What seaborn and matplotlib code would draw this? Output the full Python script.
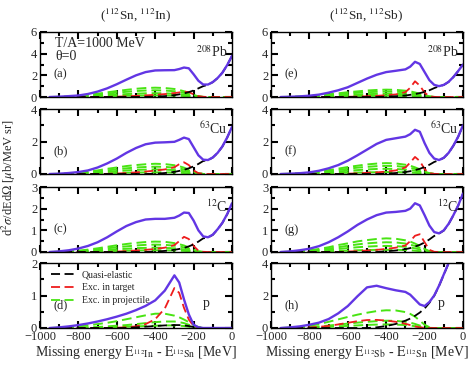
import matplotlib
matplotlib.use("Agg")
import matplotlib.pyplot as plt
import seaborn as sns
from matplotlib.ticker import MultipleLocator

# missing energy grid [MeV]
X = [-950, -900, -850, -800, -750, -700, -650, -600, -550, -500, -450, -400, -350,
     -300, -275, -250, -225, -200, -175, -150, -125, -100, -75, -50, -25, 0]

# (112Sn,112In) column
TOT_A = [0, 0.03, 0.08, 0.14, 0.28, 0.5, 0.8, 1.18, 1.6, 2.0, 2.3, 2.45, 2.47, 2.48, 2.58, 2.72, 2.65, 2.1, 1.5, 1.15, 1.15, 1.38, 1.75, 2.25, 2.95, 3.8]
QE_A = [0, 0, 0, 0, 0, 0, 0, 0, 0, 0, 0.01, 0.03, 0.08, 0.17, 0.24, 0.33, 0.45, 0.6, 0.8, 1.0, 1.13, 1.37, 1.74, 2.24, 2.94, 3.79]
TGT_A = [0, 0, 0, 0, 0, 0, 0.01, 0.03, 0.06, 0.1, 0.15, 0.2, 0.27, 0.36, 0.42, 0.5, 0.45, 0.25, 0.08, 0.02, 0, 0, 0, 0, 0, 0]
PRJ_A = [
    [0, 0.01, 0.04, 0.1, 0.19, 0.3, 0.43, 0.55, 0.66, 0.76, 0.83, 0.86, 0.83, 0.74, 0.65, 0.53, 0.38, 0.19, 0.06, 0.01, 0, 0, 0, 0, 0, 0],
    [0, 0.01, 0.03, 0.07, 0.14, 0.22, 0.31, 0.4, 0.48, 0.55, 0.6, 0.62, 0.6, 0.53, 0.47, 0.38, 0.27, 0.14, 0.04, 0.01, 0, 0, 0, 0, 0, 0],
    [0, 0, 0.02, 0.04, 0.08, 0.12, 0.18, 0.22, 0.27, 0.31, 0.34, 0.35, 0.34, 0.3, 0.27, 0.22, 0.15, 0.08, 0.02, 0, 0, 0, 0, 0, 0, 0],
    [0, 0, 0.01, 0.02, 0.03, 0.05, 0.08, 0.1, 0.12, 0.13, 0.14, 0.15, 0.15, 0.13, 0.11, 0.09, 0.07, 0.03, 0.01, 0, 0, 0, 0, 0, 0, 0],
]

TOT_B = [0, 0.02, 0.06, 0.12, 0.22, 0.4, 0.65, 0.95, 1.3, 1.6, 1.83, 1.93, 1.95, 1.98, 2.1, 2.24, 2.15, 1.65, 1.15, 0.88, 0.86, 1.02, 1.3, 1.7, 2.25, 2.9]
QE_B = [0, 0, 0, 0, 0, 0, 0, 0, 0, 0, 0, 0.02, 0.06, 0.13, 0.19, 0.26, 0.35, 0.47, 0.62, 0.8, 0.85, 1.01, 1.29, 1.69, 2.24, 2.89]
TGT_B = [0, 0, 0, 0, 0, 0, 0.01, 0.03, 0.06, 0.1, 0.15, 0.21, 0.28, 0.42, 0.6, 0.72, 0.55, 0.22, 0.05, 0.01, 0, 0, 0, 0, 0, 0]
PRJ_B = [
    [0, 0.01, 0.03, 0.08, 0.14, 0.22, 0.32, 0.4, 0.49, 0.55, 0.6, 0.63, 0.61, 0.54, 0.48, 0.39, 0.28, 0.14, 0.04, 0.01, 0, 0, 0, 0, 0, 0],
    [0, 0, 0.02, 0.05, 0.1, 0.16, 0.22, 0.29, 0.35, 0.4, 0.43, 0.45, 0.44, 0.39, 0.34, 0.28, 0.2, 0.1, 0.03, 0, 0, 0, 0, 0, 0, 0],
    [0, 0, 0.01, 0.03, 0.06, 0.1, 0.14, 0.18, 0.22, 0.25, 0.27, 0.28, 0.27, 0.24, 0.21, 0.17, 0.12, 0.06, 0.02, 0, 0, 0, 0, 0, 0, 0],
    [0, 0, 0, 0.01, 0.02, 0.04, 0.05, 0.06, 0.08, 0.09, 0.1, 0.1, 0.1, 0.09, 0.08, 0.06, 0.04, 0.02, 0.01, 0, 0, 0, 0, 0, 0, 0],
]

TOT_C = [0, 0.03, 0.08, 0.16, 0.28, 0.45, 0.68, 0.95, 1.2, 1.38, 1.5, 1.53, 1.53, 1.58, 1.68, 1.82, 1.8, 1.45, 1.0, 0.72, 0.68, 0.8, 1.05, 1.35, 1.75, 2.25]
QE_C = [0, 0, 0, 0, 0, 0, 0, 0, 0, 0, 0, 0.02, 0.05, 0.1, 0.14, 0.19, 0.26, 0.35, 0.48, 0.63, 0.67, 0.79, 1.04, 1.34, 1.74, 2.24]
TGT_C = [0, 0, 0, 0, 0, 0, 0, 0.02, 0.04, 0.07, 0.1, 0.14, 0.2, 0.32, 0.5, 0.7, 0.6, 0.28, 0.06, 0.01, 0, 0, 0, 0, 0, 0]
PRJ_C = [
    [0, 0.01, 0.02, 0.06, 0.11, 0.17, 0.24, 0.31, 0.37, 0.42, 0.46, 0.48, 0.47, 0.41, 0.36, 0.3, 0.21, 0.11, 0.03, 0, 0, 0, 0, 0, 0, 0],
    [0, 0, 0.02, 0.04, 0.07, 0.12, 0.17, 0.22, 0.26, 0.3, 0.33, 0.34, 0.33, 0.29, 0.26, 0.21, 0.15, 0.07, 0.02, 0, 0, 0, 0, 0, 0, 0],
    [0, 0, 0.01, 0.02, 0.04, 0.07, 0.1, 0.13, 0.15, 0.18, 0.19, 0.2, 0.19, 0.17, 0.15, 0.12, 0.09, 0.04, 0.01, 0, 0, 0, 0, 0, 0, 0],
    [0, 0, 0, 0.01, 0.02, 0.03, 0.04, 0.05, 0.06, 0.07, 0.08, 0.08, 0.08, 0.07, 0.06, 0.05, 0.04, 0.02, 0, 0, 0, 0, 0, 0, 0, 0],
]

TOT_D = [0, 0.02, 0.05, 0.09, 0.14, 0.2, 0.27, 0.35, 0.44, 0.55, 0.68, 0.85, 1.15, 1.62, 1.4, 0.88, 0.42, 0.1, 0.02, 0, 0, 0, 0, 0, 0, 0]
QE_D = [0, 0, 0, 0, 0, 0, 0, 0, 0, 0.02, 0.04, 0.06, 0.08, 0.09, 0.09, 0.08, 0.06, 0.03, 0.01, 0, 0, 0, 0, 0, 0, 0]
TGT_D = [0, 0, 0, 0, 0, 0, 0, 0.01, 0.02, 0.05, 0.12, 0.27, 0.6, 1.23, 1.08, 0.62, 0.26, 0.06, 0.01, 0, 0, 0, 0, 0, 0, 0]
PRJ_D = [
    [0, 0.01, 0.03, 0.05, 0.08, 0.12, 0.16, 0.21, 0.27, 0.33, 0.39, 0.44, 0.44, 0.38, 0.33, 0.26, 0.18, 0.09, 0.03, 0, 0, 0, 0, 0, 0, 0],
    [0, 0, 0, 0.01, 0.02, 0.03, 0.05, 0.07, 0.09, 0.12, 0.15, 0.18, 0.2, 0.2, 0.18, 0.15, 0.1, 0.05, 0.01, 0, 0, 0, 0, 0, 0, 0],
    [0, 0, 0, 0, 0.01, 0.01, 0.02, 0.03, 0.04, 0.05, 0.06, 0.07, 0.08, 0.08, 0.07, 0.06, 0.04, 0.02, 0, 0, 0, 0, 0, 0, 0, 0],
]

# (112Sn,112Sb) column
TOT_E = [0, 0.02, 0.06, 0.12, 0.22, 0.4, 0.62, 0.9, 1.3, 1.7, 2.05, 2.3, 2.42, 2.55, 2.8, 3.25, 3.05, 2.3, 1.55, 1.12, 1.0, 1.12, 1.4, 1.85, 2.4, 3.0]
QE_E = [0, 0, 0, 0, 0, 0, 0, 0, 0, 0, 0, 0.03, 0.07, 0.14, 0.2, 0.27, 0.36, 0.47, 0.62, 0.82, 0.99, 1.11, 1.39, 1.84, 2.39, 2.99]
TGT_E = [0, 0, 0, 0, 0, 0, 0, 0.02, 0.04, 0.07, 0.11, 0.16, 0.24, 0.45, 0.85, 1.45, 1.05, 0.4, 0.06, 0.01, 0, 0, 0, 0, 0, 0]
PRJ_E = [
    [0, 0.01, 0.04, 0.08, 0.15, 0.24, 0.34, 0.44, 0.52, 0.6, 0.65, 0.68, 0.66, 0.58, 0.52, 0.42, 0.3, 0.15, 0.05, 0.01, 0, 0, 0, 0, 0, 0],
    [0, 0.01, 0.03, 0.06, 0.11, 0.18, 0.25, 0.32, 0.39, 0.44, 0.48, 0.5, 0.49, 0.43, 0.38, 0.31, 0.22, 0.11, 0.03, 0, 0, 0, 0, 0, 0, 0],
    [0, 0, 0.02, 0.04, 0.07, 0.1, 0.15, 0.19, 0.23, 0.26, 0.29, 0.3, 0.29, 0.26, 0.23, 0.19, 0.13, 0.07, 0.02, 0, 0, 0, 0, 0, 0, 0],
    [0, 0, 0.01, 0.01, 0.03, 0.04, 0.06, 0.08, 0.09, 0.1, 0.11, 0.12, 0.12, 0.1, 0.09, 0.07, 0.05, 0.03, 0.01, 0, 0, 0, 0, 0, 0, 0],
]

TOT_F = [0, 0.02, 0.05, 0.1, 0.2, 0.35, 0.55, 0.82, 1.15, 1.5, 1.85, 2.1, 2.2, 2.3, 2.45, 2.72, 2.6, 1.9, 1.3, 0.95, 0.86, 1.0, 1.3, 1.75, 2.3, 3.0]
QE_F = [0, 0, 0, 0, 0, 0, 0, 0, 0, 0, 0, 0.02, 0.06, 0.12, 0.17, 0.24, 0.32, 0.43, 0.57, 0.74, 0.85, 0.99, 1.29, 1.74, 2.29, 2.99]
TGT_F = [0, 0, 0, 0, 0, 0, 0, 0.02, 0.04, 0.07, 0.1, 0.15, 0.22, 0.4, 0.7, 1.05, 0.8, 0.3, 0.05, 0.01, 0, 0, 0, 0, 0, 0]
PRJ_F = [
    [0, 0.01, 0.04, 0.08, 0.15, 0.24, 0.33, 0.43, 0.51, 0.59, 0.64, 0.67, 0.65, 0.57, 0.51, 0.41, 0.29, 0.15, 0.05, 0.01, 0, 0, 0, 0, 0, 0],
    [0, 0.01, 0.03, 0.06, 0.11, 0.18, 0.25, 0.32, 0.39, 0.44, 0.48, 0.5, 0.49, 0.43, 0.38, 0.31, 0.22, 0.11, 0.03, 0, 0, 0, 0, 0, 0, 0],
    [0, 0, 0.02, 0.04, 0.07, 0.11, 0.16, 0.2, 0.24, 0.28, 0.31, 0.32, 0.31, 0.27, 0.24, 0.2, 0.14, 0.07, 0.02, 0, 0, 0, 0, 0, 0, 0],
    [0, 0, 0.01, 0.01, 0.03, 0.04, 0.06, 0.08, 0.09, 0.1, 0.11, 0.12, 0.12, 0.1, 0.09, 0.07, 0.05, 0.03, 0.01, 0, 0, 0, 0, 0, 0, 0],
]

TOT_G = [0, 0.03, 0.08, 0.15, 0.27, 0.45, 0.68, 0.95, 1.25, 1.5, 1.7, 1.82, 1.85, 1.9, 2.0, 2.25, 2.15, 1.7, 1.22, 0.92, 0.86, 1.0, 1.3, 1.7, 2.15, 2.7]
QE_G = [0, 0, 0, 0, 0, 0, 0, 0, 0, 0, 0, 0.03, 0.07, 0.13, 0.18, 0.25, 0.33, 0.44, 0.58, 0.74, 0.85, 0.99, 1.29, 1.69, 2.14, 2.69]
TGT_G = [0, 0, 0, 0, 0, 0, 0, 0.02, 0.04, 0.07, 0.1, 0.14, 0.2, 0.3, 0.5, 0.75, 0.82, 0.45, 0.1, 0.01, 0, 0, 0, 0, 0, 0]
PRJ_G = [
    [0, 0.01, 0.03, 0.08, 0.14, 0.22, 0.32, 0.4, 0.49, 0.55, 0.6, 0.63, 0.61, 0.54, 0.48, 0.39, 0.28, 0.14, 0.04, 0.01, 0, 0, 0, 0, 0, 0],
    [0, 0, 0.02, 0.05, 0.1, 0.16, 0.22, 0.29, 0.35, 0.4, 0.43, 0.45, 0.44, 0.39, 0.34, 0.28, 0.2, 0.1, 0.03, 0, 0, 0, 0, 0, 0, 0],
    [0, 0, 0.01, 0.03, 0.06, 0.1, 0.14, 0.18, 0.22, 0.25, 0.27, 0.28, 0.27, 0.24, 0.21, 0.17, 0.12, 0.06, 0.02, 0, 0, 0, 0, 0, 0, 0],
    [0, 0, 0, 0.01, 0.02, 0.04, 0.05, 0.06, 0.08, 0.09, 0.1, 0.1, 0.1, 0.09, 0.08, 0.06, 0.04, 0.02, 0.01, 0, 0, 0, 0, 0, 0, 0],
]

TOT_H = [0, 0.04, 0.1, 0.2, 0.33, 0.55, 0.9, 1.35, 1.95, 2.5, 2.6, 2.45, 2.32, 2.22, 2.05, 1.75, 1.45, 1.35, 1.6, 2.0, 2.6, 3.3, 4.0, 4.8, 5.6, 6.5]
QE_H = [0, 0, 0, 0, 0, 0, 0, 0, 0, 0, 0.04, 0.12, 0.25, 0.45, 0.58, 0.75, 0.95, 1.2, 1.55, 1.98, 2.58, 3.28, 3.98, 4.78, 5.58, 6.48]
TGT_H = [0, 0, 0.01, 0.03, 0.07, 0.13, 0.22, 0.32, 0.42, 0.49, 0.5, 0.46, 0.38, 0.26, 0.18, 0.1, 0.04, 0.01, 0, 0, 0, 0, 0, 0, 0, 0]
PRJ_H = [
    [0, 0.02, 0.06, 0.13, 0.24, 0.38, 0.53, 0.68, 0.82, 0.94, 1.04, 1.09, 1.08, 0.98, 0.87, 0.7, 0.45, 0.2, 0.05, 0, 0, 0, 0, 0, 0, 0],
    [0, 0.01, 0.02, 0.05, 0.1, 0.15, 0.21, 0.27, 0.33, 0.38, 0.42, 0.45, 0.44, 0.38, 0.33, 0.25, 0.15, 0.06, 0.01, 0, 0, 0, 0, 0, 0, 0],
    [0, 0, 0.01, 0.02, 0.05, 0.07, 0.1, 0.13, 0.16, 0.19, 0.21, 0.22, 0.21, 0.18, 0.15, 0.11, 0.07, 0.03, 0, 0, 0, 0, 0, 0, 0, 0],
]

PANELS = [
    ("(a)", r"$^{208}$Pb", 6, TOT_A, QE_A, TGT_A, PRJ_A),
    ("(b)", r"$^{63}$Cu", 4, TOT_B, QE_B, TGT_B, PRJ_B),
    ("(c)", r"$^{12}$C", 3, TOT_C, QE_C, TGT_C, PRJ_C),
    ("(d)", "p", 2, TOT_D, QE_D, TGT_D, PRJ_D),
    ("(e)", r"$^{208}$Pb", 6, TOT_E, QE_E, TGT_E, PRJ_E),
    ("(f)", r"$^{63}$Cu", 4, TOT_F, QE_F, TGT_F, PRJ_F),
    ("(g)", r"$^{12}$C", 3, TOT_G, QE_G, TGT_G, PRJ_G),
    ("(h)", "p", 4, TOT_H, QE_H, TGT_H, PRJ_H),
]

BLUE = "#6236e4"
RED = "#ee1c1c"
GREEN = "#48e412"

sns.set_style("ticks")
plt.rcParams["font.family"] = ["Liberation Serif", "DejaVu Serif"]
plt.rcParams["mathtext.fontset"] = "stix"
plt.rcParams["font.size"] = 8.5
plt.rcParams["axes.edgecolor"] = "black"
plt.rcParams["axes.linewidth"] = 1.0

fig = plt.figure(figsize=(4.74, 3.69), dpi=100)

col_x = [40 / 474, 271 / 474]
col_w = 192 / 474
row_top = [32, 109, 187, 263]
row_h = 65

dash = (5, 2.5)

for i, (tag, nuc, ymax, tot, qe, tgt, prj) in enumerate(PANELS):
    col, row = divmod(i, 4)
    ax = fig.add_axes([col_x[col], 1 - (row_top[row] + row_h) / 369, col_w, row_h / 369])

    for g in prj:
        sns.lineplot(x=X, y=g, ax=ax, color=GREEN, lw=1.4, linestyle=(0, dash), legend=False)
    sns.lineplot(x=X, y=tgt, ax=ax, color=RED, lw=1.3, linestyle=(0, dash), legend=False)
    sns.lineplot(x=X, y=qe, ax=ax, color="black", lw=1.3, linestyle=(0, dash), legend=False)
    sns.lineplot(x=X, y=tot, ax=ax, color=BLUE, lw=1.7, legend=False)

    ax.set_xlim(-1000, 0)
    ax.set_ylim(0, ymax)
    ax.xaxis.set_major_locator(MultipleLocator(200))
    ax.xaxis.set_minor_locator(MultipleLocator(100))
    step = 2 if ymax in (4, 6) else 1
    ax.yaxis.set_major_locator(MultipleLocator(step))
    ax.yaxis.set_minor_locator(MultipleLocator(step / 2))
    ax.tick_params(which="both", direction="in", top=True, right=True,
                   color="black", width=1.5, labelsize=9, pad=2)
    ax.tick_params(which="major", length=5)
    ax.tick_params(which="minor", length=2.8)

    ax.text(0.07, 0.3, tag, transform=ax.transAxes, fontsize=9)
    if nuc == "p":
        ax.text(0.85 if col == 0 else 0.87, 0.32, nuc, transform=ax.transAxes, fontsize=10)
    else:
        ax.text(0.975, 0.62, nuc, transform=ax.transAxes, fontsize=10, ha="right")

    if row < 3:
        ax.set_xticklabels([])
    else:
        iso = "In" if col == 0 else "Sb"
        ax.set_xlabel(r"Missing energy $\mathrm{E}_{{}^{112}\mathrm{%s}}$ - $\mathrm{E}_{{}^{112}\mathrm{Sn}}$ [MeV]" % iso,
                      fontsize=10, labelpad=1)

    if i == 0:
        ax.text(0.08, 0.77, "T/A=1000 MeV", transform=ax.transAxes, fontsize=10)
        ax.text(0.08, 0.57, "θ=0", transform=ax.transAxes, fontsize=10)

    if i == 3:
        ax.plot([], [], color="black", lw=1.3, linestyle=(0, dash), label="Quasi-elastic")
        ax.plot([], [], color=RED, lw=1.3, linestyle=(0, dash), label="Exc. in target")
        ax.plot([], [], color=GREEN, lw=1.3, linestyle=(0, dash), label="Exc. in projectile")
        ax.legend(loc="upper left", frameon=False, fontsize=7, handlelength=2.4,
                  borderaxespad=0.3, labelspacing=0.4, bbox_to_anchor=(0.02, 0.99))

fig.text(136 / 474, 1 - 15 / 369, r"($^{112}$Sn, $^{112}$In)", ha="center", va="center", fontsize=9.5)
fig.text(366 / 474, 1 - 15 / 369, r"($^{112}$Sn, $^{112}$Sb)", ha="center", va="center", fontsize=9.5)
fig.text(0.018, 0.52, r"d$^2\sigma$/dEd$\Omega$ [$\mu$b/MeV sr]", rotation=90,
         ha="center", va="center", fontsize=9)

fig.savefig("out.png", dpi=100)
